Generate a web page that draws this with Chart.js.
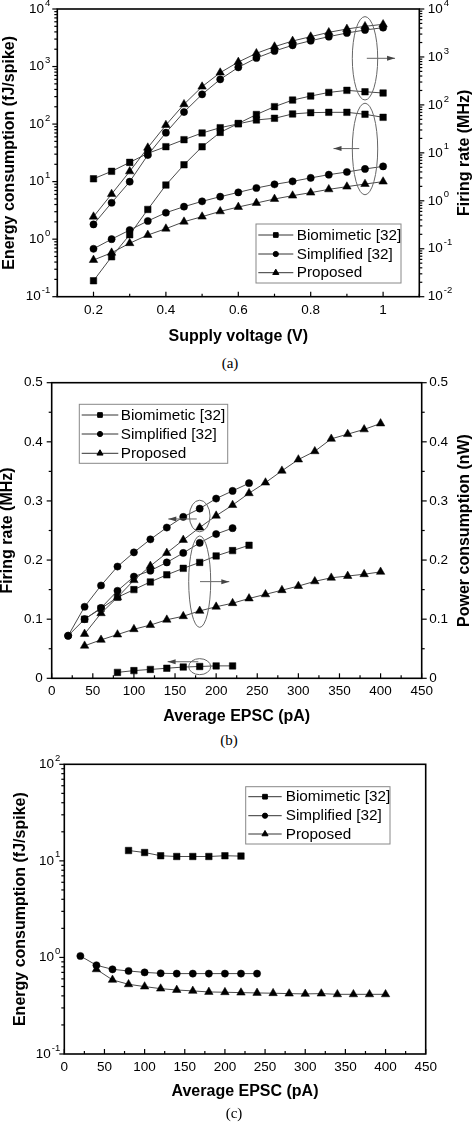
<!DOCTYPE html>
<html>
<head>
<meta charset="utf-8">
<script src="https://cdn.jsdelivr.net/npm/chart.js@4.4.1/dist/chart.umd.min.js"></script>
<style>
  body { margin: 0; background: #fff; width: 474px; height: 1123px; position: relative; overflow: hidden; }
  canvas { position: absolute; left: 0; }
  .cap { position: absolute; width: 40px; text-align: center; font: 15px "Liberation Serif", "Times New Roman", serif; line-height: 18px; }
</style>
</head>
<body>
<canvas id="chartA" width="474" height="350" style="top:0px"></canvas>
<div class="cap" style="left:210px; top:354px">(a)</div>
<canvas id="chartB" width="474" height="360" style="top:370px"></canvas>
<div class="cap" style="left:209px; top:731px">(b)</div>
<canvas id="chartC" width="474" height="357" style="top:748px"></canvas>
<div class="cap" style="left:214px; top:1104px">(c)</div>

<script>
// ---- (a) data: supply voltage sweep ----
const aVoltage = [0.2, 0.25, 0.3, 0.35, 0.4, 0.45, 0.5, 0.55, 0.6, 0.65, 0.7, 0.75, 0.8, 0.85, 0.9, 0.95, 1.0];
// energy consumption, left axis (fJ/spike)
const aEnergyBio = [11.2, 15.1, 21.6, 31, 40.5, 53.6, 70, 86.5, 101, 118, 126, 150, 158, 160, 160, 148, 131];
const aEnergySimp = [0.68, 1.0, 1.44, 2.07, 2.88, 3.67, 4.54, 5.47, 6.5, 7.74, 8.96, 10.1, 11.6, 13.2, 14.7, 16.6, 18.4];
const aEnergyProp = [0.434, 0.58, 0.85, 1.18, 1.52, 2.01, 2.46, 3.04, 3.62, 4.25, 4.99, 5.7, 6.43, 7.34, 8.17, 9.08, 10.0];
// firing rate, right axis (MHz)
const aRateBio = [0.0215, 0.068, 0.196, 0.66, 2.13, 5.65, 13.4, 26.7, 41, 63, 92, 126, 153, 182, 201, 188, 177];
const aRateSimp = [0.322, 0.91, 2.5, 9.0, 26.3, 71, 166, 341, 607, 950, 1330, 1750, 2180, 2650, 3160, 3650, 4080];
const aRateProp = [0.466, 1.38, 4.1, 12.8, 38, 103, 240, 470, 784, 1190, 1640, 2150, 2650, 3260, 3830, 4350, 4790];
const aXTicks = [0.2, 0.4, 0.6, 0.8, 1.0];
const aXLabels = ["0.2", "0.4", "0.6", "0.8", "1"];
const aLeftExp = [-1, 0, 1, 2, 3, 4];
const aRightExp = [-2, -1, 0, 1, 2, 3, 4];

// ---- (b) data: average EPSC sweep ----
const bEpscSimp = [20, 40, 60, 80, 100, 120, 140, 160, 180, 200, 220, 240];
const bRateSimp = [0.072, 0.121, 0.157, 0.189, 0.213, 0.235, 0.255, 0.273, 0.287, 0.304, 0.317, 0.330];
const bEpscProp = [40, 60, 80, 100, 120, 140, 160, 180, 200, 220, 240, 260, 280, 300, 320, 340, 360, 380, 400];
const bRateProp = [0.075, 0.110, 0.137, 0.166, 0.190, 0.212, 0.234, 0.255, 0.275, 0.293, 0.313, 0.331, 0.351, 0.370, 0.384, 0.405, 0.413, 0.421, 0.431];
const bEpscBioRate = [80, 100, 120, 140, 160, 180, 200, 220];
const bRateBio = [0.010, 0.013, 0.015, 0.017, 0.019, 0.020, 0.021, 0.021];
const bEpscSimpPow = [20, 40, 60, 80, 100, 120, 140, 160, 180, 200, 220];
const bPowerSimp = [0.072, 0.100, 0.119, 0.148, 0.172, 0.182, 0.196, 0.212, 0.229, 0.244, 0.254];
const bEpscBioPow = [40, 60, 80, 100, 120, 140, 160, 180, 200, 220, 240];
const bPowerBio = [0.100, 0.118, 0.137, 0.150, 0.163, 0.175, 0.186, 0.196, 0.207, 0.216, 0.225];
const bPowerProp = [0.055, 0.065, 0.074, 0.083, 0.090, 0.099, 0.105, 0.114, 0.121, 0.127, 0.135, 0.142, 0.149, 0.156, 0.164, 0.170, 0.173, 0.176, 0.180];
const bXTicks = [0, 50, 100, 150, 200, 250, 300, 350, 400, 450];
const bYTicks = [0, 0.1, 0.2, 0.3, 0.4, 0.5];
const bYLabels = ["0", "0.1", "0.2", "0.3", "0.4", "0.5"];

// ---- (c) data: energy vs EPSC ----
const cEpscBio = [80, 100, 120, 140, 160, 180, 200, 220];
const cEnergyBio = [12.8, 12.2, 11.3, 11.1, 11.1, 11.1, 11.3, 11.2];
const cEpscSimp = [20, 40, 60, 80, 100, 120, 140, 160, 180, 200, 220, 240];
const cEnergySimp = [1.035, 0.83, 0.753, 0.724, 0.70, 0.685, 0.68, 0.68, 0.68, 0.68, 0.68, 0.68];
const cEpscProp = [40, 60, 80, 100, 120, 140, 160, 180, 200, 220, 240, 260, 280, 300, 320, 340, 360, 380, 400];
const cEnergyProp = [0.753, 0.585, 0.527, 0.499, 0.475, 0.46, 0.45, 0.439, 0.436, 0.432, 0.429, 0.426, 0.422, 0.419, 0.422, 0.415, 0.415, 0.415, 0.415];
const cLeftExp = [-1, 0, 1, 2];

const seriesNames = ["Biomimetic [32]", "Simplified [32]", "Proposed"];

const FONT = '"Liberation Sans", Arial, Helvetica, sans-serif';
const LINE = "#4a4a4a";
const MARK = {
  bio: { pointStyle: "rect", radius: 4.6 },
  simp: { pointStyle: "circle", radius: 3.6 },
  prop: { pointStyle: "triangle", radius: 4.9 },
};

function series(xs, ys, mark, axis) {
  return {
    data: xs.map((x, i) => ({ x: x, y: ys[i] })),
    yAxisID: axis,
    borderColor: LINE,
    borderWidth: 1,
    pointStyle: mark.pointStyle,
    pointRadius: mark.radius,
    pointBackgroundColor: "#000",
    pointBorderColor: "#000",
    pointBorderWidth: 0.5,
    tension: 0,
  };
}

// label of the form 10^n, exponent raised
function drawPow(ctx, exp, x, y, align) {
  ctx.font = "13.5px " + FONT;
  const wb = ctx.measureText("10").width;
  ctx.font = "9.5px " + FONT;
  const ws = ctx.measureText(String(exp)).width;
  const x0 = align === "right" ? x - wb - ws - 1 : x;
  ctx.textAlign = "left";
  ctx.textBaseline = "middle";
  ctx.font = "13.5px " + FONT;
  ctx.fillText("10", x0, y);
  ctx.font = "9.5px " + FONT;
  ctx.fillText(String(exp), x0 + wb + 1, y - 6);
}

function arrow(ctx, x1, y1, x2, y2) {
  ctx.beginPath();
  ctx.moveTo(x1, y1);
  ctx.lineTo(x2, y2);
  ctx.stroke();
  const dir = Math.sign(x2 - x1);
  ctx.beginPath();
  ctx.moveTo(x2, y2);
  ctx.lineTo(x2 - dir * 8, y2 - 2.5);
  ctx.lineTo(x2 - dir * 8, y2 + 2.5);
  ctx.closePath();
  ctx.fill();
}

// axis frame, ticks, labels, titles, notes and legend drawn through the chart scales
function makeFrame(cfg) {
  return {
    id: "frame",
    afterDraw(chart) {
      const ctx = chart.ctx;
      const a = chart.chartArea;
      ctx.save();
      ctx.fillStyle = "#000";
      ctx.strokeStyle = "#000";

      cfg.axes.forEach((ax) => {
        const s = chart.scales[ax.id];
        const major = ax.log ? ax.exps.map((e) => Math.pow(10, e)) : ax.ticks;
        let minor = [];
        if (ax.log) {
          for (let i = 0; i < ax.exps.length - 1; i++) {
            for (let m = 2; m <= 9; m++) minor.push(m * Math.pow(10, ax.exps[i]));
          }
        } else {
          minor = ax.minor;
        }
        ctx.lineWidth = 1.2;
        const tick = (v, len) => {
          const p = s.getPixelForValue(v);
          ctx.beginPath();
          if (ax.side === "bottom") { ctx.moveTo(p, a.bottom); ctx.lineTo(p, a.bottom - len); }
          if (ax.side === "left") { ctx.moveTo(a.left, p); ctx.lineTo(a.left - len, p); }
          if (ax.side === "right") { ctx.moveTo(a.right, p); ctx.lineTo(a.right + len, p); }
          ctx.stroke();
        };
        major.forEach((v) => tick(v, 5));
        minor.forEach((v) => tick(v, 3));

        // tick labels
        major.forEach((v, i) => {
          const p = s.getPixelForValue(v);
          if (ax.log) {
            if (ax.side === "left") drawPow(ctx, ax.exps[i], a.left - ax.gap, p, "right");
            else drawPow(ctx, ax.exps[i], a.right + ax.gap, p, "left");
          } else {
            ctx.font = "13.5px " + FONT;
            ctx.textBaseline = "middle";
            if (ax.side === "bottom") { ctx.textAlign = "center"; ctx.fillText(ax.labels[i], p, a.bottom + ax.gap); }
            if (ax.side === "left") { ctx.textAlign = "right"; ctx.fillText(ax.labels[i], a.left - ax.gap, p); }
            if (ax.side === "right") { ctx.textAlign = "left"; ctx.fillText(ax.labels[i], a.right + ax.gap, p); }
          }
        });

        // axis title
        if (ax.title) {
          ctx.font = "bold 16px " + FONT;
          ctx.textAlign = "center";
          ctx.textBaseline = "middle";
          const cy = (a.top + a.bottom) / 2;
          if (ax.side === "bottom") {
            ctx.fillText(ax.title, (a.left + a.right) / 2, ax.titlePos);
          } else {
            ctx.save();
            ctx.translate(ax.titlePos, cy);
            ctx.rotate(-Math.PI / 2);
            ctx.fillText(ax.title, 0, 0);
            ctx.restore();
          }
        }
      });

      // frame box
      ctx.lineWidth = 1.6;
      ctx.strokeRect(a.left, a.top, a.right - a.left, a.bottom - a.top);

      // ellipses and arrows
      const xs = chart.scales.x;
      const ys = chart.scales.y;
      ctx.strokeStyle = "#666";
      ctx.fillStyle = "#444";
      ctx.lineWidth = 1;
      (cfg.notes || []).forEach((n) => {
        if (n.type === "ellipse") {
          ctx.beginPath();
          ctx.ellipse(xs.getPixelForValue(n.x), ys.getPixelForValue(n.y), n.rx, n.ry, 0, 0, Math.PI * 2);
          ctx.stroke();
        } else {
          arrow(ctx, xs.getPixelForValue(n.x1), ys.getPixelForValue(n.y), xs.getPixelForValue(n.x2), ys.getPixelForValue(n.y));
        }
      });

      // legend
      const lg = cfg.legend;
      ctx.strokeStyle = "#888";
      ctx.lineWidth = 1;
      ctx.strokeRect(lg.box[0], lg.box[1], lg.box[2] - lg.box[0], lg.box[3] - lg.box[1]);
      seriesNames.forEach((name, i) => {
        const y = lg.rows[i];
        const ds = chart.data.datasets[i];
        ctx.strokeStyle = "#333";
        ctx.beginPath();
        ctx.moveTo(lg.line[0], y);
        ctx.lineTo(lg.line[1], y);
        ctx.stroke();
        ctx.fillStyle = "#000";
        ctx.strokeStyle = "#000";
        Chart.helpers.drawPoint(ctx, { pointStyle: ds.pointStyle, radius: ds.pointRadius * 0.72, rotation: 0, borderWidth: 0.5 }, (lg.line[0] + lg.line[1]) / 2, y);
        ctx.font = "15.3px " + FONT;
        ctx.textAlign = "left";
        ctx.textBaseline = "middle";
        ctx.fillText(name, lg.text, y + 0.5);
      });
      ctx.restore();
    },
  };
}

function baseOptions(padding, scales) {
  return {
    responsive: false,
    animation: false,
    devicePixelRatio: 1,
    layout: { padding: padding },
    plugins: { legend: { display: false }, tooltip: { enabled: false } },
    scales: scales,
  };
}

// ---- chart (a) ----
new Chart(document.getElementById("chartA"), {
  type: "line",
  data: {
    datasets: [
      series(aVoltage, aEnergyBio, MARK.bio, "y"),
      series(aVoltage, aEnergySimp, MARK.simp, "y"),
      series(aVoltage, aEnergyProp, MARK.prop, "y"),
      series(aVoltage, aRateBio, MARK.bio, "y2"),
      series(aVoltage, aRateSimp, MARK.simp, "y2"),
      series(aVoltage, aRateProp, MARK.prop, "y2"),
    ],
  },
  options: baseOptions({ left: 57.3, right: 54.7, top: 9, bottom: 53.3 }, {
    x: { type: "linear", min: 0.1, max: 1.1, display: false },
    y: { type: "logarithmic", min: 0.1, max: 10000, display: false, position: "left" },
    y2: { type: "logarithmic", min: 0.01, max: 10000, display: false, position: "right" },
  }),
  plugins: [makeFrame({
    axes: [
      { id: "x", side: "bottom", ticks: aXTicks, labels: aXLabels, minor: [0.1, 0.3, 0.5, 0.7, 0.9, 1.1], gap: 13.5, title: "Supply voltage (V)", titlePos: 337 },
      { id: "y", side: "left", log: true, exps: aLeftExp, gap: 7, title: "Energy consumption (fJ/spike)", titlePos: 9.5 },
      { id: "y2", side: "right", log: true, exps: aRightExp, gap: 8.5, title: "Firing rate (MHz)", titlePos: 465 },
    ],
    notes: [
      { type: "ellipse", x: 0.95, y: 1390, rx: 12.7, ry: 41.7 },
      { type: "arrow", x1: 0.955, x2: 1.033, y: 1390 },
      { type: "ellipse", x: 0.95, y: 36.9, rx: 12.7, ry: 45.8 },
      { type: "arrow", x1: 0.934, x2: 0.863, y: 37.5 },
    ],
    legend: { box: [256, 224, 401, 283], rows: [235, 254, 272.7], line: [258.3, 293.3], text: 296.7 },
  })],
});

// ---- chart (b) ----
new Chart(document.getElementById("chartB"), {
  type: "line",
  data: {
    datasets: [
      series(bEpscBioRate, bRateBio, MARK.bio, "y"),
      series(bEpscSimp, bRateSimp, MARK.simp, "y"),
      series(bEpscProp, bRateProp, MARK.prop, "y"),
      series(bEpscBioPow, bPowerBio, MARK.bio, "y2"),
      series(bEpscSimpPow, bPowerSimp, MARK.simp, "y2"),
      series(bEpscProp, bPowerProp, MARK.prop, "y2"),
    ],
  },
  options: baseOptions({ left: 51.7, right: 52.3, top: 12.7, bottom: 51.7 }, {
    x: { type: "linear", min: 0, max: 450, display: false },
    y: { type: "linear", min: 0, max: 0.5, display: false, position: "left" },
    y2: { type: "linear", min: 0, max: 0.5, display: false, position: "right" },
  }),
  plugins: [makeFrame({
    axes: [
      { id: "x", side: "bottom", ticks: bXTicks, labels: bXTicks.map(String), minor: [25, 75, 125, 175, 225, 275, 325, 375, 425], gap: 13, title: "Average EPSC (pA)", titlePos: 346.7 },
      { id: "y", side: "left", ticks: bYTicks, labels: bYLabels, minor: [0.05, 0.15, 0.25, 0.35, 0.45], gap: 9, title: "Firing rate (MHz)", titlePos: 7.5 },
      { id: "y2", side: "right", ticks: bYTicks, labels: bYLabels, minor: [0.05, 0.15, 0.25, 0.35, 0.45], gap: 7.5, title: "Power consumption (nW)", titlePos: 465 },
    ],
    notes: [
      { type: "ellipse", x: 180, y: 0.2745, rx: 10.3, ry: 15.8 },
      { type: "arrow", x1: 176.4, x2: 141.8, y: 0.2695 },
      { type: "ellipse", x: 180, y: 0.1635, rx: 11, ry: 45.7 },
      { type: "arrow", x1: 180.4, x2: 216, y: 0.1635 },
      { type: "ellipse", x: 180, y: 0.0197, rx: 11, ry: 8 },
      { type: "arrow", x1: 178.3, x2: 141, y: 0.028 },
    ],
    legend: { box: [79.3, 34.3, 227.7, 93.3], rows: [45, 64, 83.3], line: [81.7, 118.3], text: 120.7 },
  })],
});

// ---- chart (c) ----
new Chart(document.getElementById("chartC"), {
  type: "line",
  data: {
    datasets: [
      series(cEpscBio, cEnergyBio, MARK.bio, "y"),
      series(cEpscSimp, cEnergySimp, MARK.simp, "y"),
      series(cEpscProp, cEnergyProp, MARK.prop, "y"),
    ],
  },
  options: baseOptions({ left: 64.3, right: 48.3, top: 16.3, bottom: 51 }, {
    x: { type: "linear", min: 0, max: 450, display: false },
    y: { type: "logarithmic", min: 0.1, max: 100, display: false, position: "left" },
  }),
  plugins: [makeFrame({
    axes: [
      { id: "x", side: "bottom", ticks: bXTicks, labels: bXTicks.map(String), minor: [25, 75, 125, 175, 225, 275, 325, 375, 425], gap: 13, title: "Average EPSC (pA)", titlePos: 343.7 },
      { id: "y", side: "left", log: true, exps: cLeftExp, gap: 4, title: "Energy consumption (fJ/spike)", titlePos: 20.7 },
    ],
    notes: [],
    legend: { box: [245.7, 38.7, 390, 96], rows: [48.7, 67.7, 86], line: [248.3, 281.7], text: 285.7 },
  })],
});
</script>
</body>
</html>
